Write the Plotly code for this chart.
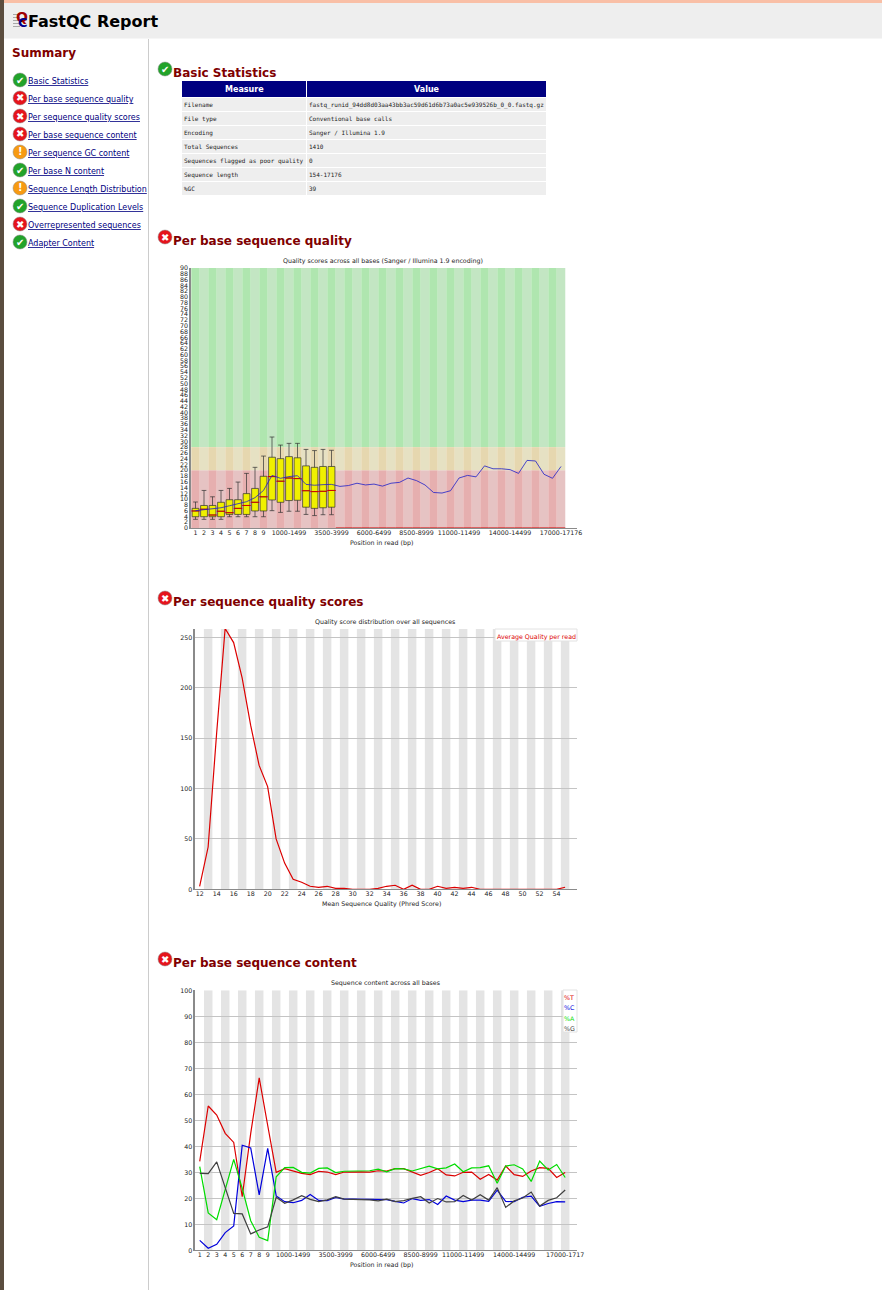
import plotly.graph_objects as go

W, H = 882, 1290

# sidebar / sections
module_names = ["Basic Statistics", "Per base sequence quality", "Per sequence quality scores",
                "Per base sequence content", "Per sequence GC content", "Per base N content",
                "Sequence Length Distribution", "Sequence Duplication Levels",
                "Overrepresented sequences", "Adapter Content"]
module_status = ["ok", "fail", "fail", "fail", "warn", "ok", "warn", "ok", "fail", "ok"]
section_names = ["Basic Statistics", "Per base sequence quality",
                 "Per sequence quality scores", "Per base sequence content"]
section_status = ["ok", "fail", "fail", "fail"]

# basic statistics table
table_measures = ["Filename", "File type", "Encoding", "Total Sequences",
                  "Sequences flagged as poor quality", "Sequence length", "%GC"]
table_values = ["fastq_runid_94dd8d03aa43bb3ac59d61d6b73a0ac5e939526b_0_0.fastq.gz",
                "Conventional base calls", "Sanger / Illumina 1.9", "1410", "0", "154-17176", "39"]

# per base quality
base_idx = list(range(1, 45))
box_idx = list(range(1, 18))
whisker_top = [9.0, 13.0, 10.8, 13.0, 13.7, 15.9, 18.9, 21.0, 24.9, 31.5, 28.7, 29.3, 29.3, 27.2, 26.8, 27.2, 26.9]
q3 = [6.8, 7.8, 7.8, 8.9, 9.8, 9.8, 11.9, 13.7, 17.9, 24.5, 24.0, 24.7, 24.3, 21.5, 21.0, 21.3, 21.3]
medians = [5.9, 6.5, 4.5, 5.8, 5.3, 6.8, 7.8, 8.9, 10.8, 17.8, 16.2, 17.3, 17.1, 12.9, 12.6, 12.7, 13.0]
q1 = [3.9, 3.9, 3.9, 3.9, 4.7, 4.7, 4.7, 5.9, 5.9, 9.7, 8.9, 9.5, 9.6, 7.2, 6.8, 7.0, 7.2]
whisker_low = [3.0, 3.0, 3.0, 3.0, 3.9, 3.9, 3.9, 3.9, 3.9, 6.0, 5.4, 5.8, 5.8, 4.7, 4.3, 4.6, 4.6]
# the bins past 17 only have a mean, their median sits on zero
flat_medians = [0] * 27
mean_quality = [6.0, 6.3, 6.5, 7.0, 7.7, 8.3, 9.1, 10.5, 13.0, 18.2, 17.2, 17.8, 18.1, 15.1, 14.8, 15.0, 15.1,
                14.4, 14.7, 15.5, 14.9, 15.2, 14.5, 15.5, 15.8, 17.3, 16.4, 14.9, 12.3, 12.1, 12.9, 17.3,
                18.2, 17.7, 21.5, 20.5, 20.5, 20.2, 18.9, 23.4, 23.2, 18.6, 17.2, 21.3]
base_tickvals = [1, 2, 3, 4, 5, 6, 7, 8, 9, 12, 17, 22, 27, 32, 38, 44]
base_ticktext = ["1", "2", "3", "4", "5", "6", "7", "8", "9", "1000-1499", "3500-3999", "6000-6499",
                 "8500-8999", "11000-11499", "14000-14499", "17000-17176"]
quality_yticks = list(range(0, 91, 2))

# per sequence quality
seq_quality = list(range(12, 56))
seq_counts = [3, 42, 155, 259, 245, 210, 163, 123, 102, 50, 26, 10, 7, 3, 2, 3, 1, 1, 0, 0, 0, 1, 3, 4,
              0, 4, 0, 0, 3, 1, 2, 1, 2, 0, 0, 0, 0, 0, 0, 0, 0, 0, 0, 2]
seq_tickvals = list(range(12, 55, 2))
seq_yticks = [0, 50, 100, 150, 200, 250]

# per base content
pct_t = [34.2, 55.5, 52.0, 45.0, 41.5, 20.6, 45.0, 66.3, 48.0, 30.0, 31.4, 30.6, 29.6, 29.1, 30.4, 30.1, 29.1,
         30.1, 30.2, 30.2, 30.1, 30.6, 30.5, 31.4, 31.4, 30.1, 28.8, 29.9, 31.4, 29.0, 28.6, 30.0, 30.1, 27.3,
         29.2, 27.0, 32.4, 29.1, 28.4, 30.5, 31.8, 31.5, 28.0, 29.9]
pct_c = [3.8, 0.8, 2.3, 6.8, 9.4, 40.4, 39.4, 21.3, 39.2, 20.9, 18.7, 18.3, 19.2, 21.5, 19.2, 19.1, 20.3,
         19.7, 19.7, 19.6, 19.7, 19.4, 19.5, 18.8, 18.2, 19.9, 19.2, 19.5, 17.6, 20.9, 19.3, 18.7, 19.3, 19.3,
         18.8, 23.1, 18.8, 18.7, 20.4, 20.8, 16.9, 18.0, 18.7, 18.6]
pct_a = [32.2, 14.4, 11.8, 23.8, 35.0, 23.8, 11.4, 5.0, 3.7, 28.3, 31.8, 31.9, 30.0, 29.7, 31.5, 31.7, 29.9,
         30.4, 30.5, 30.6, 30.6, 31.2, 30.2, 31.4, 31.3, 30.5, 31.5, 32.4, 31.3, 31.7, 33.2, 30.2, 31.7, 31.8,
         32.5, 25.8, 32.4, 32.9, 31.3, 26.5, 34.3, 30.9, 33.0, 28.0]
pct_g = [29.6, 29.5, 34.0, 23.8, 14.2, 14.0, 6.3, 7.8, 9.0, 20.4, 18.1, 19.4, 21.0, 19.6, 18.7, 19.4, 20.6,
         19.7, 19.6, 19.4, 19.4, 19.0, 19.7, 18.7, 19.1, 20.0, 20.6, 18.2, 19.9, 18.6, 18.7, 21.1, 19.3, 21.4,
         19.3, 24.1, 16.5, 19.0, 20.1, 22.4, 17.0, 19.2, 20.2, 23.2]
content_labels = ["%T", "%C", "%A", "%G"]
content_ticktext = base_ticktext[:-1] + ["17000-1717"]
content_yticks = list(range(0, 101, 10))

RED_LINE, BLUE_LINE, GREEN_LINE, GRAY_LINE = "#dc0000", "#0000dc", "#00dc00", "#404040"
MAROON = "#800000"
NAVY = "#000080"
GRID = "#c4c4c4"
AXIS = "#8a8a8a"
CHART_FONT = "DejaVu Sans"
ICON_COLOR = {"ok": "#22a32a", "fail": "#e5141c", "warn": "#f79a12"}
ICON_GLYPH = {"ok": "\u2714", "fail": "\u2716", "warn": "!"}


def px(x):
    return x / W


def py(y):
    return 1 - y / H


shapes = []
annotations = []


def rect(x0, y0, x1, y1, color, **kw):
    shapes.append(dict(type="rect", xref="paper", yref="paper", x0=px(x0), x1=px(x1),
                       y0=py(y0), y1=py(y1), fillcolor=color, line_width=0, layer="below", **kw))


def text(x, y, s, size=7, color="black", anchor="left", family=CHART_FONT, **kw):
    annotations.append(dict(xref="paper", yref="paper", x=px(x), y=py(y), text=s, showarrow=False,
                            xanchor=anchor, yanchor="middle", borderpad=0, borderwidth=0,
                            font=dict(size=size, color=color, family=family), **kw))


def icon(cx, cy, status):
    shapes.append(dict(type="circle", xref="paper", yref="paper", x0=px(cx - 7), x1=px(cx + 7),
                       y0=py(cy + 7), y1=py(cy - 7), fillcolor=ICON_COLOR[status],
                       line=dict(color="#8a8a8a", width=0.5)))
    text(cx, cy, "<b>%s</b>" % ICON_GLYPH[status], size=10, color="white", anchor="center")


# page furniture
rect(0, 0, 882, 3, "#f9bfa6")
rect(4, 3, 882, 38.5, "#eeeeee")
rect(0, 0, 4, 1290, "#5b4d3f")
rect(148, 39, 149, 1290, "#cccccc")

# logo
for yy in (14, 17, 20, 23, 26):
    rect(13, yy, 20, yy + 1, "#a8a8a8")
text(22, 17, "<b>Q</b>", size=14, color="#a00000", anchor="center")
text(22.5, 22.5, "<b>C</b>", size=13, color="#00008c", anchor="center")
text(28, 21.5, "<b>FastQC Report</b>", size=16)

text(12, 53, "<b>Summary</b>", size=12, color=MAROON)
for i, name in enumerate(module_names):
    yy = 81 + 18 * i
    icon(20, yy - 1, module_status[i])
    text(28, yy + 0.5, "<u>%s</u>" % name, size=8, color=NAVY)

for name, status, yy in zip(section_names, section_status, [72, 240, 601, 962]):
    icon(165, yy - 3, status)
    text(173, yy + 1, "<b>%s</b>" % name, size=12, color=MAROON)

# stats table
rect(182, 81, 306, 97, NAVY)
rect(307, 81, 546, 97, NAVY)
text(244, 89, "<b>Measure</b>", size=8, color="white", anchor="center")
text(426.5, 89, "<b>Value</b>", size=8, color="white", anchor="center")
for i, (m, v) in enumerate(zip(table_measures, table_values)):
    top = 98 + 14 * i
    rect(182, top, 306, top + 13, "#eeeeee")
    rect(307, top, 546, top + 13, "#eeeeee")
    text(184, top + 6.7, m, size=6, color="#222222", family="DejaVu Sans Mono")
    text(309, top + 6.7, v, size=6, color="#222222", family="DejaVu Sans Mono")

fig = go.Figure()

# chart 1: quality boxes
zones = [(0, 20, "#e6afaf", "#e6c3c3"), (20, 28, "#e6d7af", "#e6e1c3"), (28, 90, "#afe6af", "#c3e6c3")]
for i in base_idx:
    for y0, y1, dark, light in zones:
        shapes.append(dict(type="rect", xref="x", yref="y", x0=i - 0.5, x1=i + 0.5, y0=y0, y1=y1,
                           fillcolor=dark if i % 2 else light, line_width=0, layer="below"))

fig.add_trace(go.Box(x=box_idx, q1=q1, median=medians, q3=q3, lowerfence=whisker_low, upperfence=whisker_top,
                     width=0.8, whiskerwidth=0.7, fillcolor="#f0f000", line=dict(color="#303030", width=0.7),
                     boxpoints=False, xaxis="x", yaxis="y"))
fig.add_trace(go.Scatter(x=base_idx, y=medians + flat_medians, mode="markers", marker=dict(size=1, opacity=0),
                         error_x=dict(type="constant", value=0.5, thickness=1, width=0, color="#d20000"),
                         xaxis="x", yaxis="y", cliponaxis=False))
fig.add_trace(go.Scatter(x=base_idx, y=mean_quality, mode="lines", line=dict(color="#2020c8", width=0.8),
                         xaxis="x", yaxis="y"))

# chart 2: quality distribution
for v in seq_quality:
    if v % 2:
        shapes.append(dict(type="rect", xref="x2", yref="y2", x0=v - 0.5, x1=v + 0.5, y0=0, y1=258.5,
                           fillcolor="#e4e4e4", line_width=0, layer="below"))
fig.add_trace(go.Scatter(x=seq_quality, y=seq_counts, mode="lines", line=dict(color=RED_LINE, width=1.2),
                         xaxis="x2", yaxis="y2", cliponaxis=False))

# chart 3: base content
for i in base_idx:
    if i % 2 == 0:
        shapes.append(dict(type="rect", xref="x3", yref="y3", x0=i - 0.5, x1=i + 0.5, y0=0, y1=100,
                           fillcolor="#e4e4e4", line_width=0, layer="below"))
for series, color in zip([pct_t, pct_c, pct_a, pct_g], [RED_LINE, BLUE_LINE, GREEN_LINE, GRAY_LINE]):
    fig.add_trace(go.Scatter(x=base_idx, y=series, mode="lines", line=dict(color=color, width=1.2),
                             xaxis="x3", yaxis="y3"))

# chart texts
text(383, 261, "Quality scores across all bases (Sanger / Illumina 1.9 encoding)", size=6.3, color="#222222", anchor="center")
text(381, 543, "Position in read (bp)", size=6.3, color="#222222", anchor="center")
text(385, 622, "Quality score distribution over all sequences", size=6.3, color="#222222", anchor="center")
text(381, 904, "Mean Sequence Quality (Phred Score)", size=6.3, color="#222222", anchor="center")
text(385, 983, "Sequence content across all bases", size=6.3, color="#222222", anchor="center")
text(381, 1265, "Position in read (bp)", size=6.3, color="#222222", anchor="center")

# legends
shapes.append(dict(type="rect", xref="paper", yref="paper", x0=px(495), x1=px(577), y0=py(641), y1=py(629),
                   fillcolor="white", line=dict(color="#e2e2e2", width=1)))
text(536, 636.5, "Average Quality per read", size=6.3, color=RED_LINE, anchor="center")
shapes.append(dict(type="rect", xref="paper", yref="paper", x0=px(563), x1=px(577), y0=py(1032), y1=py(990),
                   fillcolor="white", line=dict(color="#e2e2e2", width=1)))
for label, color, yy in zip(content_labels, [RED_LINE, BLUE_LINE, GREEN_LINE, GRAY_LINE], [997.5, 1007.5, 1018, 1028]):
    text(564, yy, label, size=6.3, color=color)


def axis_domain(lo, hi):
    return [px(lo), px(hi)]


tick_font = dict(size=6.3, color="#222222", family=CHART_FONT)
x_common = dict(showgrid=False, zeroline=False, showline=True, linecolor=AXIS, linewidth=1, ticks="", automargin=False,
                tickfont=tick_font, tickmode="array", ticklabelstandoff=-2, tickangle=0)
y_common = dict(zeroline=False, showline=True, linecolor=AXIS, linewidth=1.5, ticks="", automargin=False,
                tickfont=tick_font, tickmode="array", ticklabelstandoff=0, gridcolor=GRID, gridwidth=1)

fig.update_layout(
    width=W, height=H, autosize=False, margin=dict(l=0, r=0, t=0, b=0), showlegend=False,
    paper_bgcolor="white", plot_bgcolor="rgba(0,0,0,0)", hovermode=False,
    shapes=shapes, annotations=annotations,
    xaxis=dict(domain=axis_domain(191, 577), range=[0.47, 45.88], tickvals=base_tickvals,
               ticktext=base_ticktext, layer="below traces", **x_common),
    yaxis=dict(domain=[py(528), py(268)], range=[0, 90], tickvals=quality_yticks, showgrid=False, **y_common),
    xaxis2=dict(domain=axis_domain(195.3, 577), range=[11.49, 56.4], tickvals=seq_tickvals, anchor="y2", **x_common),
    yaxis2=dict(domain=[py(889.3), py(629)], range=[0, 258.5], tickvals=seq_yticks, showgrid=True, anchor="x2", **y_common),
    xaxis3=dict(domain=axis_domain(195.3, 577), range=[0.48, 45.39], tickvals=base_tickvals,
                ticktext=content_ticktext, anchor="y3", **x_common),
    yaxis3=dict(domain=[py(1250.3), py(990.3)], range=[0, 100], tickvals=content_yticks, showgrid=True, anchor="x3", **y_common),
)

fig.write_html("out.html", config=dict(displayModeBar=False),
               post_script="document.body.style.margin='0';")
